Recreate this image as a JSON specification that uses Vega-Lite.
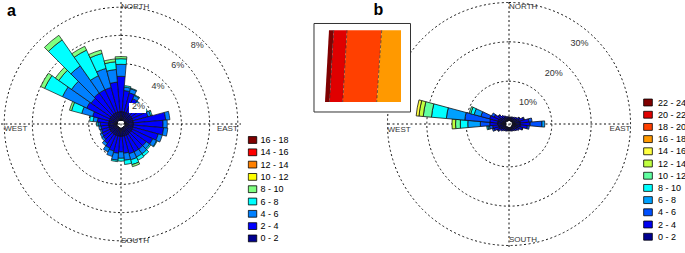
{
  "$schema": "https://vega.github.io/schema/vega-lite/v6.json",
  "padding": 0,
  "background": "white",
  "spacing": 147,
  "bounds": "flush",
  "config": {"view": {"stroke": null}, "text": {"font": "Liberation Sans"}},
  "resolve": {"scale": {"color": "independent"}, "legend": {"color": "independent"}},
  "hconcat": [
    {
      "width": 240,
      "height": 246,
      "layer": [
        {
          "data": {"values": [{"p": 2}, {"p": 4}, {"p": 6}, {"p": 8}]},
          "mark": {"type": "arc", "filled": false, "stroke": "#111", "strokeWidth": 1, "strokeDash": [2, 2.5]},
          "encoding": {
            "theta": {"datum": 0, "type": "quantitative", "scale": {"domain": [0, 360], "range": [0, 6.283185307179586], "zero": false, "nice": false}},
            "theta2": {"datum": 360},
            "radius": {"field": "p", "type": "quantitative", "stack": null, "scale": {"type": "linear", "domain": [0, 8], "range": [4, 116.8], "zero": false, "nice": false}}
          }
        },
        {
          "data": {"values": [{"x": -1, "x2": 1, "y": 0, "y2": 0}, {"x": 0, "x2": 0, "y": -1, "y2": 1}]},
          "mark": {"type": "rule", "stroke": "#111", "strokeWidth": 1, "strokeDash": [2, 2.5]},
          "encoding": {
            "x": {"field": "x", "type": "quantitative", "scale": {"domain": [-1, 1], "nice": false, "zero": false}, "axis": null},
            "x2": {"field": "x2"},
            "y": {"field": "y", "type": "quantitative", "scale": {"domain": [-1, 1], "nice": false, "zero": false}, "axis": null},
            "y2": {"field": "y2"}
          }
        },
        {
          "data": {"values": [{}]},
          "mark": {"type": "arc", "fill": "white", "strokeWidth": 0},
          "encoding": {
            "theta": {"datum": 0, "type": "quantitative", "scale": {"domain": [0, 360], "range": [0, 6.283185307179586], "zero": false, "nice": false}},
            "theta2": {"datum": 360},
            "radius": {"datum": 0, "type": "quantitative", "scale": {"type": "linear", "domain": [0, 8], "range": [4, 116.8], "zero": false, "nice": false}}
          }
        },
        {
          "data": {"values": [
            {"d0": -5, "d1": 5, "0 - 2": 0.6, "2 - 4": 2.5, "4 - 6": 0.85, "6 - 8": 0.4, "8 - 10": 0.15},
            {"d0": 5, "d1": 15, "0 - 2": 0.6, "2 - 4": 1.5, "4 - 6": 0.25, "6 - 8": 0.1},
            {"d0": 15, "d1": 25, "0 - 2": 0.6, "2 - 4": 1.4, "4 - 6": 0.3, "6 - 8": 0.05},
            {"d0": 25, "d1": 35, "0 - 2": 0.6, "2 - 4": 1.1, "4 - 6": 0.25, "6 - 8": 0.05},
            {"d0": 35, "d1": 45, "0 - 2": 0.6, "2 - 4": 0.9, "4 - 6": 0.2},
            {"d0": 45, "d1": 55, "0 - 2": 0.6, "2 - 4": 0.8, "4 - 6": 0.2},
            {"d0": 55, "d1": 65, "0 - 2": 0.6, "2 - 4": 0.9, "4 - 6": 0.2, "6 - 8": 0.1},
            {"d0": 65, "d1": 75, "0 - 2": 0.6, "2 - 4": 1.1, "4 - 6": 0.2, "6 - 8": 0.1},
            {"d0": 75, "d1": 85, "0 - 2": 0.6, "2 - 4": 2.3, "4 - 6": 0.3},
            {"d0": 85, "d1": 95, "0 - 2": 0.6, "2 - 4": 2.1, "4 - 6": 0.3},
            {"d0": 95, "d1": 105, "0 - 2": 0.6, "2 - 4": 2.15, "4 - 6": 0.3},
            {"d0": 105, "d1": 115, "0 - 2": 0.6, "2 - 4": 1.85, "4 - 6": 0.3},
            {"d0": 115, "d1": 125, "0 - 2": 0.6, "2 - 4": 1.6, "4 - 6": 0.3, "6 - 8": 0.05},
            {"d0": 125, "d1": 135, "0 - 2": 0.6, "2 - 4": 1.3, "4 - 6": 0.3, "6 - 8": 0.1},
            {"d0": 135, "d1": 145, "0 - 2": 0.6, "2 - 4": 1.3, "4 - 6": 0.4, "6 - 8": 0.2},
            {"d0": 145, "d1": 155, "0 - 2": 0.6, "2 - 4": 1.3, "4 - 6": 0.4, "6 - 8": 0.25},
            {"d0": 155, "d1": 165, "0 - 2": 0.6, "2 - 4": 1.3, "4 - 6": 0.45, "6 - 8": 0.35, "8 - 10": 0.15},
            {"d0": 165, "d1": 175, "0 - 2": 0.6, "2 - 4": 1.2, "4 - 6": 0.5, "6 - 8": 0.3},
            {"d0": 175, "d1": 185, "0 - 2": 0.6, "2 - 4": 1.1, "4 - 6": 0.45, "6 - 8": 0.2},
            {"d0": 185, "d1": 195, "0 - 2": 0.6, "2 - 4": 1.2, "4 - 6": 0.5, "6 - 8": 0.1},
            {"d0": 195, "d1": 205, "0 - 2": 0.6, "2 - 4": 1.1, "4 - 6": 0.4},
            {"d0": 205, "d1": 215, "0 - 2": 0.6, "2 - 4": 1.0, "4 - 6": 0.3},
            {"d0": 215, "d1": 225, "0 - 2": 0.6, "2 - 4": 0.8, "4 - 6": 0.2},
            {"d0": 225, "d1": 235, "0 - 2": 0.6, "2 - 4": 0.65, "4 - 6": 0.15},
            {"d0": 235, "d1": 245, "0 - 2": 0.6, "2 - 4": 0.6, "4 - 6": 0.15},
            {"d0": 245, "d1": 255, "0 - 2": 0.6, "2 - 4": 0.55, "4 - 6": 0.1},
            {"d0": 255, "d1": 265, "0 - 2": 0.6, "2 - 4": 0.55, "4 - 6": 0.15},
            {"d0": 265, "d1": 275, "0 - 2": 0.6, "2 - 4": 0.6, "4 - 6": 0.15, "6 - 8": 0.1},
            {"d0": 275, "d1": 285, "0 - 2": 0.6, "2 - 4": 0.8, "4 - 6": 0.3, "6 - 8": 0.25},
            {"d0": 285, "d1": 295, "0 - 2": 0.6, "2 - 4": 1.2, "4 - 6": 0.8, "6 - 8": 0.75, "8 - 10": 0.15},
            {"d0": 295, "d1": 305, "0 - 2": 0.6, "2 - 4": 1.8, "4 - 6": 1.9, "6 - 8": 1.4, "8 - 10": 0.3},
            {"d0": 305, "d1": 315, "0 - 2": 0.6, "2 - 4": 1.7, "4 - 6": 1.7, "6 - 8": 1.1, "8 - 10": 0.3},
            {"d0": 315, "d1": 325, "0 - 2": 0.6, "2 - 4": 1.8, "4 - 6": 2.35, "6 - 8": 2.25, "8 - 10": 0.4},
            {"d0": 325, "d1": 335, "0 - 2": 0.6, "2 - 4": 1.8, "4 - 6": 1.1, "6 - 8": 2.0, "8 - 10": 0.3},
            {"d0": 335, "d1": 345, "0 - 2": 0.6, "2 - 4": 1.8, "4 - 6": 1.4, "6 - 8": 1.1, "8 - 10": 0.25},
            {"d0": 345, "d1": 355, "0 - 2": 0.6, "2 - 4": 2.1, "4 - 6": 0.9, "6 - 8": 0.55, "8 - 10": 0.2}
          ]},
          "transform": [
            {"fold": ["0 - 2", "2 - 4", "4 - 6", "6 - 8", "8 - 10"], "as": ["bin", "f"]},
            {"filter": "datum.f > 0"},
            {"stack": "f", "groupby": ["d0"], "as": ["r0", "r1"]}
          ],
          "mark": {"type": "arc", "stroke": "#111", "strokeWidth": 0.7},
          "encoding": {
            "theta": {"field": "d0", "type": "quantitative", "stack": null, "scale": {"domain": [0, 360], "range": [0, 6.283185307179586], "zero": false, "nice": false}},
            "theta2": {"field": "d1"},
            "radius": {"field": "r1", "type": "quantitative", "stack": null, "scale": {"type": "linear", "domain": [0, 8], "range": [4, 116.8], "zero": false, "nice": false}},
            "radius2": {"field": "r0"},
            "color": {
              "field": "bin", "type": "nominal",
              "scale": {
                "domain": ["16 - 18", "14 - 16", "12 - 14", "10 - 12", "8 - 10", "6 - 8", "4 - 6", "2 - 4", "0 - 2"],
                "range": ["#800000", "#FF0000", "#FF8000", "#FFFF00", "#80FF80", "#00FFFF", "#0080FF", "#0000FF", "#000090"]
              },
              "legend": {
                "orient": "none", "legendX": 246.5, "legendY": 134.5, "title": null, "padding": 0,
                "symbolType": "M-1,-0.8L1,-0.8L1,0.8L-1,0.8Z", "symbolSize": 72,
                "symbolStrokeColor": "#000", "symbolStrokeWidth": 0.8, "symbolOpacity": 1,
                "labelFont": "Liberation Sans", "labelFontSize": 9, "labelColor": "#000",
                "labelOffset": 3, "clipHeight": 9, "rowPadding": 2.3
              }
            }
          }
        },
        {
          "data": {"values": [{}]},
          "mark": {"type": "rect", "fill": "white"},
          "encoding": {
            "x": {"datum": 0.0667, "type": "quantitative", "scale": {"domain": [-1, 1], "nice": false, "zero": false}, "axis": null},
            "x2": {"datum": 0.2083},
            "y": {"datum": 0.1707, "type": "quantitative", "scale": {"domain": [-1, 1], "nice": false, "zero": false}, "axis": null},
            "y2": {"datum": 0.0894}
          }
        },
        {
          "data": {"values": [{"p": 2, "t": "2%"}, {"p": 4, "t": "4%"}, {"p": 6, "t": "6%"}, {"p": 8, "t": "8%"}]},
          "mark": {"type": "text", "radiusOffset": -7, "fontSize": 9, "color": "#333"},
          "encoding": {
            "theta": {"datum": 44, "type": "quantitative", "scale": {"domain": [0, 360], "range": [0, 6.283185307179586], "zero": false, "nice": false}},
            "radius": {"field": "p", "type": "quantitative", "stack": null, "scale": {"type": "linear", "domain": [0, 8], "range": [4, 116.8], "zero": false, "nice": false}},
            "text": {"field": "t"}
          }
        },
        {
          "data": {"values": [{"t": "NORTH", "a": 0}, {"t": "SOUTH", "a": 180}]},
          "mark": {"type": "text", "align": "left", "baseline": "middle", "fontSize": 8, "color": "#333"},
          "encoding": {
            "theta": {"field": "a", "type": "quantitative", "stack": null, "scale": {"domain": [0, 360], "range": [0, 6.283185307179586], "zero": false, "nice": false}},
            "radius": {"datum": 8, "type": "quantitative", "scale": {"type": "linear", "domain": [0, 8], "range": [4, 116.8], "zero": false, "nice": false}},
            "text": {"field": "t"}
          }
        },
        {
          "data": {"values": [{"t": "WEST", "a": 270}]},
          "mark": {"type": "text", "align": "left", "baseline": "middle", "dy": 5, "fontSize": 8, "color": "#333"},
          "encoding": {
            "theta": {"field": "a", "type": "quantitative", "stack": null, "scale": {"domain": [0, 360], "range": [0, 6.283185307179586], "zero": false, "nice": false}},
            "radius": {"datum": 8, "type": "quantitative", "scale": {"type": "linear", "domain": [0, 8], "range": [4, 116.8], "zero": false, "nice": false}},
            "text": {"field": "t"}
          }
        },
        {
          "data": {"values": [{"t": "EAST", "a": 90}]},
          "mark": {"type": "text", "align": "right", "baseline": "middle", "dy": 5, "fontSize": 8, "color": "#333"},
          "encoding": {
            "theta": {"field": "a", "type": "quantitative", "stack": null, "scale": {"domain": [0, 360], "range": [0, 6.283185307179586], "zero": false, "nice": false}},
            "radius": {"datum": 8, "type": "quantitative", "scale": {"type": "linear", "domain": [0, 8], "range": [4, 116.8], "zero": false, "nice": false}},
            "text": {"field": "t"}
          }
        },
        {
          "data": {"values": [{"t": "a"}]},
          "mark": {"type": "text", "fontSize": 16, "fontWeight": "bold", "color": "#000"},
          "encoding": {
            "x": {"datum": -0.9125, "type": "quantitative", "scale": {"domain": [-1, 1], "nice": false, "zero": false}, "axis": null},
            "y": {"datum": 0.9187, "type": "quantitative", "scale": {"domain": [-1, 1], "nice": false, "zero": false}, "axis": null},
            "text": {"field": "t"}
          }
        }
      ]
    },
    {
      "width": 242,
      "height": 246,
      "layer": [
        {
          "data": {"values": [{"p": 10}, {"p": 20}, {"p": 30}]},
          "mark": {"type": "arc", "filled": false, "stroke": "#111", "strokeWidth": 1, "strokeDash": [2, 2.5]},
          "encoding": {
            "theta": {"datum": 0, "type": "quantitative", "scale": {"domain": [0, 360], "range": [0, 6.283185307179586], "zero": false, "nice": false}},
            "theta2": {"datum": 360},
            "radius": {"field": "p", "type": "quantitative", "stack": null, "scale": {"type": "linear", "domain": [0, 30], "range": [3.5, 121.5], "zero": false, "nice": false}}
          }
        },
        {
          "data": {"values": [{"x": -1, "x2": 1, "y": 0, "y2": 0}, {"x": 0, "x2": 0, "y": -1, "y2": 1}]},
          "mark": {"type": "rule", "stroke": "#111", "strokeWidth": 1, "strokeDash": [2, 2.5]},
          "encoding": {
            "x": {"field": "x", "type": "quantitative", "scale": {"domain": [-1, 1], "nice": false, "zero": false}, "axis": null},
            "x2": {"field": "x2"},
            "y": {"field": "y", "type": "quantitative", "scale": {"domain": [-1, 1], "nice": false, "zero": false}, "axis": null},
            "y2": {"field": "y2"}
          }
        },
        {
          "data": {"values": [{}]},
          "mark": {"type": "arc", "fill": "white", "strokeWidth": 0},
          "encoding": {
            "theta": {"datum": 0, "type": "quantitative", "scale": {"domain": [0, 360], "range": [0, 6.283185307179586], "zero": false, "nice": false}},
            "theta2": {"datum": 360},
            "radius": {"datum": 0, "type": "quantitative", "scale": {"type": "linear", "domain": [0, 30], "range": [3.5, 121.5], "zero": false, "nice": false}}
          }
        },
        {
          "data": {"values": [
            {"d0": -5, "d1": 5, "0 - 2": 0.6, "2 - 4": 0.3},
            {"d0": 5, "d1": 15, "0 - 2": 0.6, "2 - 4": 0.3},
            {"d0": 15, "d1": 25, "0 - 2": 0.7, "2 - 4": 0.3},
            {"d0": 25, "d1": 35, "0 - 2": 0.7, "2 - 4": 0.4},
            {"d0": 35, "d1": 45, "0 - 2": 0.8, "2 - 4": 0.5},
            {"d0": 45, "d1": 55, "0 - 2": 1.0, "2 - 4": 0.6},
            {"d0": 55, "d1": 65, "0 - 2": 1.3, "2 - 4": 0.8, "4 - 6": 0.1},
            {"d0": 65, "d1": 75, "0 - 2": 1.7, "2 - 4": 1.3, "4 - 6": 0.2},
            {"d0": 75, "d1": 85, "0 - 2": 2.0, "2 - 4": 2.2, "4 - 6": 0.8},
            {"d0": 85, "d1": 95, "0 - 2": 2.0, "2 - 4": 2.5, "4 - 6": 3.0, "6 - 8": 0.7},
            {"d0": 95, "d1": 105, "0 - 2": 2.0, "2 - 4": 1.8, "4 - 6": 0.5},
            {"d0": 105, "d1": 115, "0 - 2": 1.6, "2 - 4": 1.1, "4 - 6": 0.1},
            {"d0": 115, "d1": 125, "0 - 2": 1.3, "2 - 4": 0.7},
            {"d0": 125, "d1": 135, "0 - 2": 1.0, "2 - 4": 0.6},
            {"d0": 135, "d1": 145, "0 - 2": 0.8, "2 - 4": 0.5},
            {"d0": 145, "d1": 155, "0 - 2": 0.7, "2 - 4": 0.4},
            {"d0": 155, "d1": 165, "0 - 2": 0.6, "2 - 4": 0.4},
            {"d0": 165, "d1": 175, "0 - 2": 0.6, "2 - 4": 0.3},
            {"d0": 175, "d1": 185, "0 - 2": 0.6, "2 - 4": 0.3},
            {"d0": 185, "d1": 195, "0 - 2": 0.6, "2 - 4": 0.3},
            {"d0": 195, "d1": 205, "0 - 2": 0.6, "2 - 4": 0.4},
            {"d0": 205, "d1": 215, "0 - 2": 0.7, "2 - 4": 0.4},
            {"d0": 215, "d1": 225, "0 - 2": 0.8, "2 - 4": 0.5},
            {"d0": 225, "d1": 235, "0 - 2": 1.0, "2 - 4": 0.7},
            {"d0": 235, "d1": 245, "0 - 2": 1.4, "2 - 4": 0.9, "4 - 6": 0.1},
            {"d0": 245, "d1": 255, "0 - 2": 1.8, "2 - 4": 1.3, "4 - 6": 0.4},
            {"d0": 255, "d1": 265, "0 - 2": 1.8, "2 - 4": 1.5, "4 - 6": 0.8, "6 - 8": 0.4, "8 - 10": 0.3},
            {"d0": 265, "d1": 275, "0 - 2": 2.0, "2 - 4": 2.0, "4 - 6": 2.4, "6 - 8": 3.2, "8 - 10": 1.9, "10 - 12": 1.2, "12 - 14": 0.9},
            {"d0": 275, "d1": 285, "0 - 2": 2.0, "2 - 4": 2.0, "4 - 6": 6.4, "6 - 8": 4.7, "8 - 10": 3.8, "10 - 12": 2.1, "12 - 14": 1.1, "14 - 16": 0.7},
            {"d0": 285, "d1": 295, "0 - 2": 2.0, "2 - 4": 2.2, "4 - 6": 2.3, "6 - 8": 1.8, "8 - 10": 0.9, "10 - 12": 0.4},
            {"d0": 295, "d1": 305, "0 - 2": 1.8, "2 - 4": 1.5, "4 - 6": 0.7},
            {"d0": 305, "d1": 315, "0 - 2": 1.5, "2 - 4": 0.9, "4 - 6": 0.1},
            {"d0": 315, "d1": 325, "0 - 2": 1.1, "2 - 4": 0.7},
            {"d0": 325, "d1": 335, "0 - 2": 0.9, "2 - 4": 0.5},
            {"d0": 335, "d1": 345, "0 - 2": 0.7, "2 - 4": 0.4},
            {"d0": 345, "d1": 355, "0 - 2": 0.6, "2 - 4": 0.4}
          ]},
          "transform": [
            {"fold": ["0 - 2", "2 - 4", "4 - 6", "6 - 8", "8 - 10", "10 - 12", "12 - 14", "14 - 16"], "as": ["bin", "f"]},
            {"filter": "datum.f > 0"},
            {"stack": "f", "groupby": ["d0"], "as": ["r0", "r1"]}
          ],
          "mark": {"type": "arc", "stroke": "#111", "strokeWidth": 0.8},
          "encoding": {
            "theta": {"field": "d0", "type": "quantitative", "stack": null, "scale": {"domain": [0, 360], "range": [0, 6.283185307179586], "zero": false, "nice": false}},
            "theta2": {"field": "d1"},
            "radius": {"field": "r1", "type": "quantitative", "stack": null, "scale": {"type": "linear", "domain": [0, 30], "range": [3.5, 121.5], "zero": false, "nice": false}},
            "radius2": {"field": "r0"},
            "color": {
              "field": "bin", "type": "nominal",
              "scale": {
                "domain": ["22 - 24", "20 - 22", "18 - 20", "16 - 18", "14 - 16", "12 - 14", "10 - 12", "8 - 10", "6 - 8", "4 - 6", "2 - 4", "0 - 2"],
                "range": ["#800000", "#E00000", "#FF4000", "#FF9900", "#FFFF40", "#C0FF40", "#60FFA0", "#00FFFF", "#00A0FF", "#0050FF", "#0000F0", "#000090"]
              },
              "legend": {
                "orient": "none", "legendX": 255, "legendY": 97, "title": null, "padding": 0,
                "symbolType": "M-1,-0.8L1,-0.8L1,0.8L-1,0.8Z", "symbolSize": 75,
                "symbolStrokeColor": "#000", "symbolStrokeWidth": 0.8, "symbolOpacity": 1,
                "labelFont": "Liberation Sans", "labelFontSize": 9, "labelColor": "#000",
                "labelOffset": 5, "clipHeight": 9, "rowPadding": 2.2
              }
            }
          }
        },
        {
          "data": {"values": [{}]},
          "mark": {"type": "rect", "fill": "white", "stroke": "#333", "strokeWidth": 1},
          "encoding": {
            "x": {"datum": -1.6116, "type": "quantitative", "scale": {"domain": [-1, 1], "nice": false, "zero": false}, "axis": null},
            "x2": {"datum": -0.814},
            "y": {"datum": 0.8171, "type": "quantitative", "scale": {"domain": [-1, 1], "nice": false, "zero": false}, "axis": null},
            "y2": {"datum": 0.0976}
          }
        },
        {
          "data": {"values": [
            {"bin": "22 - 24", "y": 0.7618, "xl": -1.4876, "xr": -1.4488},
            {"bin": "22 - 24", "y": 0.1789, "xl": -1.5207, "xr": -1.4835},
            {"bin": "20 - 22", "y": 0.7618, "xl": -1.4488, "xr": -1.3388},
            {"bin": "20 - 22", "y": 0.1789, "xl": -1.4835, "xr": -1.3744},
            {"bin": "18 - 20", "y": 0.7618, "xl": -1.3388, "xr": -1.0521},
            {"bin": "18 - 20", "y": 0.1789, "xl": -1.3744, "xr": -1.0934},
            {"bin": "16 - 18", "y": 0.7618, "xl": -1.0521, "xr": -0.8926},
            {"bin": "16 - 18", "y": 0.1789, "xl": -1.0934, "xr": -0.8926}
          ]},
          "mark": {"type": "area", "orient": "horizontal", "opacity": 1},
          "encoding": {
            "y": {"field": "y", "type": "quantitative", "scale": {"domain": [-1, 1], "nice": false, "zero": false}, "axis": null},
            "x": {"field": "xl", "type": "quantitative", "stack": null, "scale": {"domain": [-1, 1], "nice": false, "zero": false}, "axis": null},
            "x2": {"field": "xr"},
            "color": {"field": "bin", "type": "nominal"}
          }
        },
        {
          "data": {"values": [
            {"xa": -1.4488, "ya": 0.7618, "xb": -1.4835, "yb": 0.1789},
            {"xa": -1.3388, "ya": 0.7618, "xb": -1.3744, "yb": 0.1789},
            {"xa": -1.0521, "ya": 0.7618, "xb": -1.0934, "yb": 0.1789}
          ]},
          "mark": {"type": "rule", "stroke": "#333", "strokeWidth": 0.7, "strokeDash": [3, 2]},
          "encoding": {
            "x": {"field": "xa", "type": "quantitative", "scale": {"domain": [-1, 1], "nice": false, "zero": false}, "axis": null},
            "x2": {"field": "xb"},
            "y": {"field": "ya", "type": "quantitative", "scale": {"domain": [-1, 1], "nice": false, "zero": false}, "axis": null},
            "y2": {"field": "yb"}
          }
        },
        {
          "data": {"values": [{"p": 10, "t": "10%"}, {"p": 20, "t": "20%"}, {"p": 30, "t": "30%"}]},
          "mark": {"type": "text", "radiusOffset": -14, "fontSize": 9, "color": "#333"},
          "encoding": {
            "theta": {"datum": 41, "type": "quantitative", "scale": {"domain": [0, 360], "range": [0, 6.283185307179586], "zero": false, "nice": false}},
            "radius": {"field": "p", "type": "quantitative", "stack": null, "scale": {"type": "linear", "domain": [0, 30], "range": [3.5, 121.5], "zero": false, "nice": false}},
            "text": {"field": "t"}
          }
        },
        {
          "data": {"values": [{"t": "NORTH", "a": 0}]},
          "mark": {"type": "text", "align": "left", "baseline": "middle", "dy": 4.5, "fontSize": 8, "color": "#333"},
          "encoding": {
            "theta": {"field": "a", "type": "quantitative", "stack": null, "scale": {"domain": [0, 360], "range": [0, 6.283185307179586], "zero": false, "nice": false}},
            "radius": {"datum": 30, "type": "quantitative", "scale": {"type": "linear", "domain": [0, 30], "range": [3.5, 121.5], "zero": false, "nice": false}},
            "text": {"field": "t"}
          }
        },
        {
          "data": {"values": [{"t": "SOUTH", "a": 180}]},
          "mark": {"type": "text", "align": "left", "baseline": "middle", "dy": -5.5, "fontSize": 8, "color": "#333"},
          "encoding": {
            "theta": {"field": "a", "type": "quantitative", "stack": null, "scale": {"domain": [0, 360], "range": [0, 6.283185307179586], "zero": false, "nice": false}},
            "radius": {"datum": 30, "type": "quantitative", "scale": {"type": "linear", "domain": [0, 30], "range": [3.5, 121.5], "zero": false, "nice": false}},
            "text": {"field": "t"}
          }
        },
        {
          "data": {"values": [{"t": "WEST", "a": 270}]},
          "mark": {"type": "text", "align": "left", "baseline": "middle", "dy": 6, "fontSize": 8, "color": "#333"},
          "encoding": {
            "theta": {"field": "a", "type": "quantitative", "stack": null, "scale": {"domain": [0, 360], "range": [0, 6.283185307179586], "zero": false, "nice": false}},
            "radius": {"datum": 30, "type": "quantitative", "scale": {"type": "linear", "domain": [0, 30], "range": [3.5, 121.5], "zero": false, "nice": false}},
            "text": {"field": "t"}
          }
        },
        {
          "data": {"values": [{"t": "EAST", "a": 90}]},
          "mark": {"type": "text", "align": "right", "baseline": "middle", "dy": 5, "fontSize": 8, "color": "#333"},
          "encoding": {
            "theta": {"field": "a", "type": "quantitative", "stack": null, "scale": {"domain": [0, 360], "range": [0, 6.283185307179586], "zero": false, "nice": false}},
            "radius": {"datum": 30, "type": "quantitative", "scale": {"type": "linear", "domain": [0, 30], "range": [3.5, 121.5], "zero": false, "nice": false}},
            "text": {"field": "t"}
          }
        },
        {
          "data": {"values": [{"t": "b"}]},
          "mark": {"type": "text", "fontSize": 16, "fontWeight": "bold", "color": "#000"},
          "encoding": {
            "x": {"datum": -1.0785, "type": "quantitative", "scale": {"domain": [-1, 1], "nice": false, "zero": false}, "axis": null},
            "y": {"datum": 0.9268, "type": "quantitative", "scale": {"domain": [-1, 1], "nice": false, "zero": false}, "axis": null},
            "text": {"field": "t"}
          }
        }
      ]
    }
  ]
}
